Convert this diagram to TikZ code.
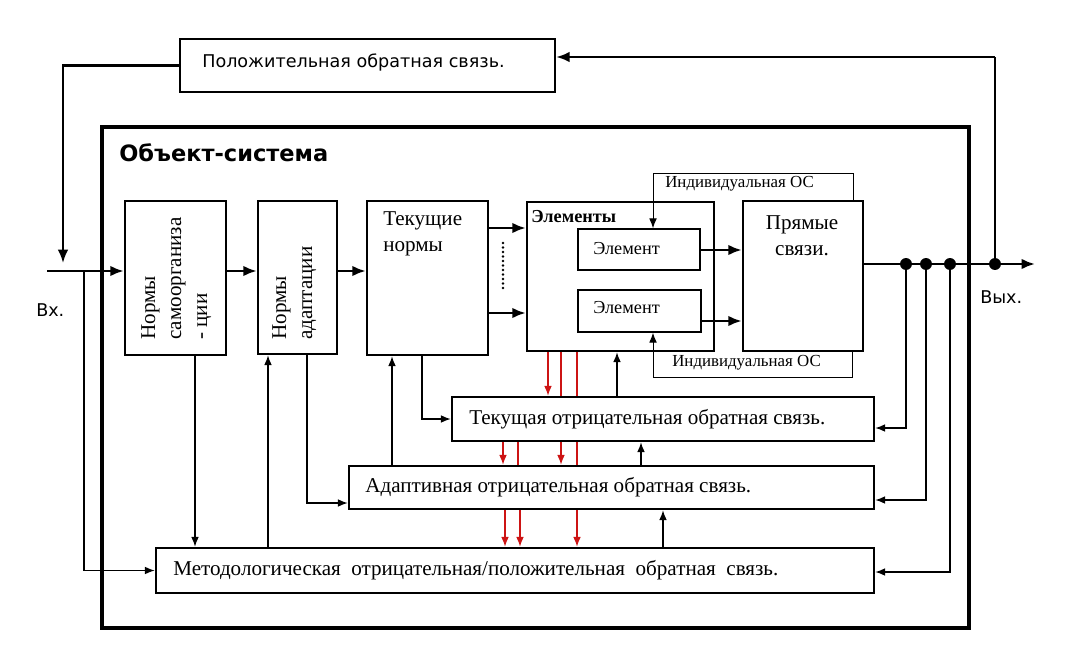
\documentclass[tikz,border=0pt]{standalone}
\usepackage{fontspec}
\setmainfont{Liberation Serif}
\setsansfont{DejaVu Sans}
\usepackage{tikz}
\usetikzlibrary{arrows.meta,positioning}
\definecolor{fbred}{RGB}{205,20,20}
\def\pu{0.025cm}
\tikzset{blk/.style={rectangle,draw,line width=1.8pt,inner sep=0pt}}
\tikzset{elm/.style={rectangle,draw,line width=1pt,inner sep=0pt}}
\tikzset{txt/.style={inner sep=0pt,font=\fontsize{15}{18.5}\selectfont}}
\tikzset{lbl/.style={inner sep=0pt,font=\sffamily\fontsize{12.5}{15}\selectfont}}
\tikzset{main/.style={line width=1.8pt,-{Latex[length=9.5pt,width=7.5pt]}}}
\tikzset{fb/.style={line width=0.9pt,-{Latex[length=7pt,width=5.5pt]}}}
\tikzset{rfb/.style={fb,draw=fbred,color=fbred}}
\tikzset{jn/.style={circle,fill,inner sep=0pt,minimum size=8.5pt}}

\begin{document}
\begin{tikzpicture}[x=\pu,y=-\pu]
        \useasboundingbox (0,0) rectangle (1077,651);
        % blocks
        \node[blk, minimum width=375*\pu, minimum height=53*\pu] (pos) at (367.5,65.5) {};
        \node[blk, line width=3pt, minimum width=867*\pu, minimum height=501*\pu] (obj) at (535.5,377.5) {};
        \node[blk, minimum width=101*\pu, minimum height=154*\pu] (so) at (175.5,278) {};
        \node[blk, minimum width=79*\pu, minimum height=153*\pu] (adp) at (297.5,277.5) {};
        \node[blk, minimum width=121*\pu, minimum height=154*\pu] (cur) at (427.5,278) {};
        \node[blk, minimum width=187*\pu, minimum height=149*\pu] (elms) at (620.5,276.5) {};
        \node[elm, minimum width=122*\pu, minimum height=41*\pu] (el1) at (639,249.5) {};
        \node[elm, minimum width=123*\pu, minimum height=42*\pu] (el2) at (639.5,311) {};
        \node[blk, minimum width=120*\pu, minimum height=150*\pu] (dir) at (803,276) {};
        \node[blk, minimum width=422*\pu, minimum height=44*\pu] (tfb) at (663,419) {};
        \node[blk, minimum width=525*\pu, minimum height=43*\pu] (afb) at (611.5,487.5) {};
        \node[blk, minimum width=718*\pu, minimum height=45*\pu] (mfb) at (515,570.5) {};

        % texts
        \node[lbl, anchor=west] (postx) at (202,62) {Положительная обратная связь.};
        \node[lbl, anchor=west, font=\sffamily\bfseries\fontsize{16}{18}\selectfont] (objtx) at (119,153) {Объект-система};
        \node[lbl, anchor=west] (intx) at (36,310) {Вх.};
        \node[lbl, anchor=west] (outtx) at (980,297) {Вых.};
        \node[txt, rotate=90, anchor=north west, align=left] (sotx) at (141,340) {Нормы\\самоорганиза\\- ции};
        \node[txt, rotate=90, anchor=north west, align=left] (adptx) at (272,340) {Нормы\\адаптации};
        \node[txt, anchor=north west, align=left] (curtx) at (383,211) {Текущие\\нормы};
        \node[txt, align=center] (dirtx) at (802,236) {Прямые\\связи.};
        \node[txt, anchor=west, font=\bfseries\fontsize{13}{15}\selectfont] (elmstx) at (531,217) {Элементы};
        \node[txt, anchor=west, font=\fontsize{13}{15}\selectfont] (el1tx) at (593,249) {Элемент};
        \node[txt, anchor=west, font=\fontsize{13}{15}\selectfont] (el2tx) at (593,308) {Элемент};
        \node[txt, anchor=west, font=\fontsize{12}{14}\selectfont] (iosa) at (665,184) {Индивидуальная ОС};
        \node[txt, anchor=west, font=\fontsize{12}{14}\selectfont] (iosb) at (672,363) {Индивидуальная ОС};
        \node[txt, anchor=west] (tfbtx) at (469,419) {Текущая отрицательная обратная связь.};
        \node[txt, anchor=west] (afbtx) at (365,487) {Адаптивная отрицательная обратная связь.};
        \node[txt, anchor=west] (mfbtx) at (173,570) {Методологическая\ \ отрицательная/положительная\ \ обратная\ \ связь.};

        % ends and junctions
        \coordinate (in) at (47,271);
        \coordinate (tap) at (84,271);
        \coordinate (fbin) at (63,263);
        \coordinate (out) at (1035,264);
        \coordinate (top) at (995,57);
        \node[jn] (j1) at (906,264) {};
        \node[jn] (j2) at (926,264) {};
        \node[jn] (j3) at (950,264) {};
        \node[jn] (j4) at (995,264) {};

        % forward path
        \draw[main] (in) -- (in -| so.west);
        \draw[main] (so.east |- in) -- (adp.west |- in);
        \draw[main] (adp.east |- in) -- (cur.west |- in);
        \draw[main] (cur.east |- 0,228) -- (elms.west |- 0,228);
        \draw[main] (cur.east |- 0,313) -- (elms.west |- 0,313);
        \draw[line width=2pt, dash pattern=on 0pt off 3.2pt, line cap=round] (503,243) -- (503,292);
        \draw[main] (el1.east |- 0,250) -- (dir.west |- 0,250);
        \draw[main] (el2.east |- 0,321) -- (dir.west |- 0,321);
        \draw[main] (dir.east |- out) -- (out);

        % positive feedback
        \draw[line width=1.8pt] (j4) -- (top);
        \draw[main, line width=1.5pt] (top) -- (top -| pos.east);
        \draw[main, line width=1.5pt] (pos.west) -| (fbin);

        % individual feedback
        \draw[fb, line width=0.7pt] (dir.north -| 853,0) -- (853,173) -- (653,173) -- (el1.north -| 653,0);
        \draw[fb, line width=0.7pt] (dir.south -| 852,0) -- (852,377) -- (653,377) -- (el2.south -| 653,0);

        % negative feedback
        \draw[fb] (j1) |- (tfb.east |- 0,428);
        \draw[fb] (j2) |- (afb.east |- 0,500);
        \draw[fb] (j3) |- (mfb.east |- 0,572);
        \draw[fb] (tap) |- (mfb.west);
        \draw[fb] (so.south -| 195,0) -- (mfb.north -| 195,0);
        \draw[fb] (mfb.north -| 268,0) -- (adp.south -| 268,0);
        \draw[fb] (adp.south -| 307,0) |- (afb.west |- 0,503);
        \draw[fb] (afb.north -| 392,0) -- (cur.south -| 392,0);
        \draw[fb] (cur.south -| 422,0) |- (tfb.west);
        \draw[fb] (tfb.north -| 617,0) -- (elms.south -| 617,0);
        \draw[fb] (afb.north -| 641,0) -- (tfb.south -| 641,0);
        \draw[fb] (mfb.north -| 663,0) -- (afb.south -| 663,0);

        % red links
        \draw[rfb] (elms.south -| 548,0) -- (tfb.north -| 548,0);
        \foreach \x in {561,577} \draw[rfb,-] (elms.south -| \x,0) -- (tfb.north -| \x,0);
        \foreach \x in {503,561} \draw[rfb] (tfb.south -| \x,0) -- (afb.north -| \x,0);
        \foreach \x in {518,577} \draw[rfb,-] (tfb.south -| \x,0) -- (afb.north -| \x,0);
        \foreach \x in {505,520,577} \draw[rfb] (afb.south -| \x,0) -- (mfb.north -| \x,0);

    \end{tikzpicture}
\end{document}
